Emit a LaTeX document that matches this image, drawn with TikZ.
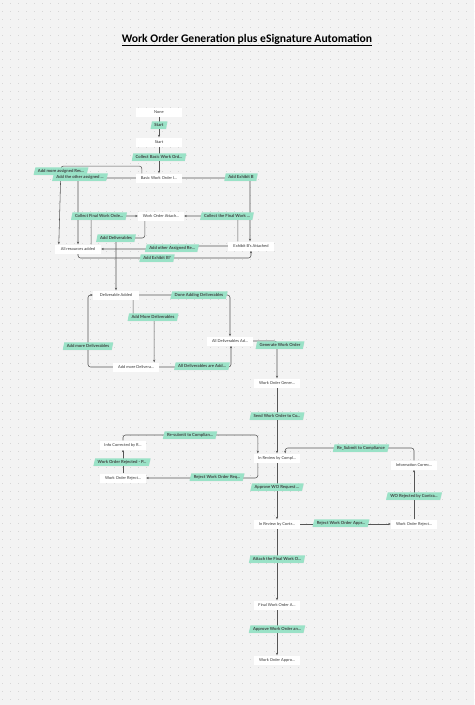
\documentclass[tikz,border=0pt]{standalone}
\usepackage{fontspec}
\setmainfont{Lato}
\newfontfamily\titlefont{Carlito}
\usetikzlibrary{shapes.geometric,arrows.meta,shadows,calc}
\pgfdeclarelayer{bgl}
\pgfdeclarelayer{edgel}
\pgfsetlayers{bgl,edgel,main}
\definecolor{mint}{HTML}{9AE2C7}
\definecolor{edgec}{HTML}{555555}
\definecolor{bgc}{HTML}{F3F3F3}
\definecolor{dotc}{HTML}{D6D6D6}
\tikzset{
 stbox/.style={draw=none, fill=white, minimum width=46pt, minimum height=9pt, inner sep=0pt,
   font=\fontsize{4}{4.5}\selectfont, text=black!80,
   drop shadow={shadow xshift=0.3pt, shadow yshift=-0.7pt, opacity=0.18}},
 lbl/.style={trapezium, trapezium left angle=65, trapezium right angle=115, trapezium stretches body,
   fill=mint, minimum height=7.5pt, inner xsep=2.5pt, inner ysep=0pt,
   font=\fontsize{4.2}{4.6}\selectfont\bfseries, text=black!75,
   drop shadow={shadow xshift=0.2pt, shadow yshift=-0.5pt, opacity=0.12}},
 conn/.style={draw=edgec, line width=0.55pt, rounded corners=2.5pt, -{Stealth[length=2.6pt,width=2.2pt]}},
}
\begin{document}
\begin{tikzpicture}[x=1pt,y=-1pt]
\begin{pgfonlayer}{bgl}
\fill[bgc] (0,0) rectangle (474,705);
\foreach \yy in {3,11,...,703} \draw[dotc, line width=0.7pt, dash pattern=on 0.7pt off 7.3pt] (2,\yy) -- (474,\yy);
\end{pgfonlayer}
\useasboundingbox (0,0) rectangle (474,705);

\node[font=\titlefont\bfseries\fontsize{11.6}{13}\selectfont] (title) at (247,40) {\underline{Work Order Generation plus eSignature Automation}};

% states
\node[stbox] (none) at (159,112) {None};
\node[stbox] (start) at (159,142) {Start};
\node[stbox] (basic) at (159,178) {Basic Work Order I...};
\node[stbox] (attach) at (161,216) {Work Order Attach...};
\node[stbox] (allres) at (78,249) {All resources added};
\node[stbox] (exhb) at (251,246) {Exhibit B's Attached};
\node[stbox] (deladd) at (116,295) {Deliverable Added};
\node[stbox] (alldel) at (230,341) {All Deliverables Ad...};
\node[stbox] (addmore) at (136,367) {Add more Delivera...};
\node[stbox] (wogen) at (277,383) {Work Order Gener...};
\node[stbox] (infocorr) at (123,445) {Info Corrected by R...};
\node[stbox] (revcomp) at (277,458) {In Review by Compl...};
\node[stbox] (worej1) at (123,478) {Work Order Reject...};
\node[stbox] (infocorr2) at (414,465) {Information Correc...};
\node[stbox] (revcontr) at (277,524) {In Review by Contr...};
\node[stbox] (worej2) at (414,524) {Work Order Reject...};
\node[stbox] (final) at (277,605) {Final Work Order A...};
\node[stbox] (appro) at (277,660) {Work Order Appro...};

% labels
\node[lbl] (lstart) at (159,125) {Start};
\node[lbl] (lcollbasic) at (159,157) {Collect Basic Work Ord...};
\node[lbl] (laddmoreres) at (61,171) {Add more assigned Res...};
\node[lbl] (laddother) at (80,177) {Add the other assigned ...};
\node[lbl] (laddexb) at (241,177) {Add Exhibit B};
\node[lbl] (lcollfinal) at (99,216) {Collect Final Work Orde...};
\node[lbl] (lcollthe) at (227,216) {Collect the Final Work ...};
\node[lbl] (ladddel) at (116,238) {Add Deliverables};
\node[lbl] (laddothres) at (172,248) {Add other Assigned Re...};
\node[lbl] (laddexbq) at (157,258) {Add Exhibit B?};
\node[lbl] (ldone) at (199,295) {Done Adding Deliverables};
\node[lbl] (laddMore) at (153,317) {Add More Deliverables};
\node[lbl] (laddmore2) at (88,346) {Add more Deliverables};
\node[lbl] (lallare) at (202,366) {All Deliverables are Add...};
\node[lbl] (lgen) at (280,345) {Generate Work Order};
\node[lbl] (lsend) at (277,416) {Send Work Order to Co...};
\node[lbl] (lresub) at (190,435) {Re-submit to Complian...};
\node[lbl] (lworejp) at (122,462) {Work Order Rejected - P...};
\node[lbl] (lrejreq) at (217,477) {Reject Work Order Req...};
\node[lbl] (lapprwo) at (277,487) {Approve WO Request ...};
\node[lbl] (lresub2) at (361,448) {Re\_Submit to Compliance};
\node[lbl] (lworejc) at (414,496) {WO Rejected by Contra...};
\node[lbl] (lrejappr) at (341,523) {Reject Work Order Appr...};
\node[lbl] (lattfinal) at (277,559) {Attach the Final Work O...};
\node[lbl] (lapprwork) at (277,629) {Approve Work Order an...};

\begin{pgfonlayer}{edgel}
\draw[conn] (none) -- (start);
\draw[conn] (start) -- (basic);
\draw[conn] ([xshift=6pt]basic.north west) |- ([yshift=1pt]laddmoreres.north) -- ([xshift=4pt]allres.north west);
\draw[conn] (basic.west) -| (allres.north);
\draw[conn] ([xshift=-10pt]allres.north east) |- (attach.west);
\draw[conn] ([xshift=10pt]exhb.north west) |- (attach.east);
\draw[conn] (basic.east) -| ([xshift=-1pt]exhb.north);
\draw[conn] ([xshift=7pt]attach.south west) |- (ladddel.center) -- (deladd.north);
\draw[conn] (exhb.west) -| (laddothres.center) |- (allres.east);
\draw[conn] (allres.south) |- (laddexbq.center) -| (exhb.south);
\draw[conn] (deladd.east) -| (alldel.north);
\draw[conn] ([xshift=-6pt]deladd.south east) |- (laddMore.center) -| ([xshift=-5pt]addmore.north east);
\draw[conn] (addmore.west) -| (laddmore2.center) |- (deladd.west);
\draw[conn] (addmore.east) -| ([xshift=1pt]alldel.south);
\draw[conn] (alldel.east) -| (wogen.north);
\draw[conn] (wogen) -- (revcomp);
\draw[conn] (infocorr.north) |- (lresub.center) -| ([xshift=4pt]revcomp.north west);
\draw[conn] (worej1) -- (infocorr);
\draw[conn] ([xshift=4pt]revcomp.south west) |- (worej1.east);
\draw[conn] (revcomp) -- (revcontr);
\draw[conn] (revcontr) -- (worej2);
\draw[conn] (worej2) -- (infocorr2);
\draw[conn] (infocorr2.north) |- (lresub2.center) -| ([xshift=-15pt]revcomp.north east);
\draw[conn] (revcontr) -- (final);
\draw[conn] (final) -- (appro);
\end{pgfonlayer}
\end{tikzpicture}
\end{document}
